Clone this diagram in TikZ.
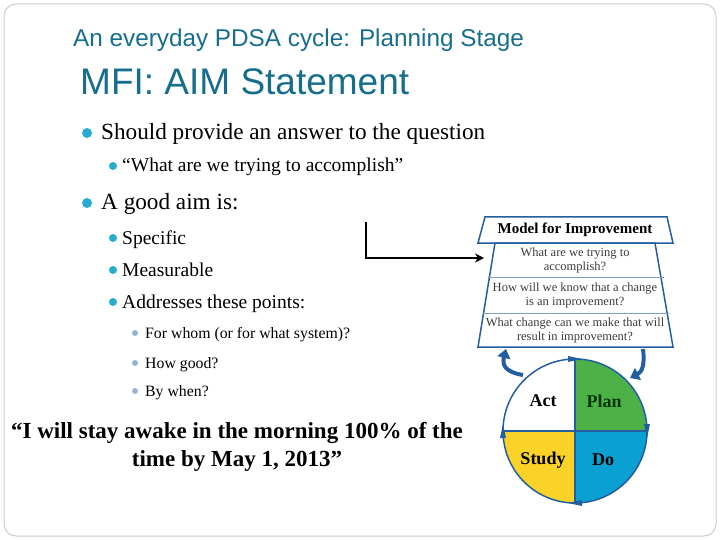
\documentclass[tikz,border=0pt]{standalone}
\usepackage{fontspec}
\setmainfont{Liberation Serif}
\newfontfamily\hdfont{Liberation Sans}
\usetikzlibrary{arrows.meta}
\definecolor{teal1}{RGB}{22,110,140}
\definecolor{bul}{RGB}{40,170,210}
\definecolor{bul3}{RGB}{150,180,210}
\definecolor{mblue}{RGB}{35,95,160}
\definecolor{plang}{RGB}{76,178,72}
\definecolor{dob}{RGB}{10,160,210}
\definecolor{stdy}{RGB}{250,210,40}
\definecolor{txtg}{RGB}{60,60,60}
\tikzset{
 l1/.style={anchor=base west,font=\fontsize{23.2}{25}\selectfont},
 l2/.style={anchor=base west,font=\fontsize{19.5}{21}\selectfont},
 l3/.style={anchor=base west,font=\fontsize{15.8}{17}\selectfont},
 qt/.style={font=\fontsize{12.5}{14}\selectfont\color{txtg},align=center},
 lbl/.style={font=\bfseries\fontsize{18}{20}\selectfont},
 barrow/.style={mblue,line width=4pt,-{Triangle[length=9pt,width=13pt]}}
}
\begin{document}
\begin{tikzpicture}[x=1pt,y=-1pt]
\useasboundingbox (0,0) rectangle (720,540);
\draw[gray!40,line width=1pt,rounded corners=12pt] (4,4) rectangle (716,536);
\node[anchor=base west,font=\hdfont\fontsize{24.3}{26}\selectfont,text=teal1,inner sep=0] (t1) at (73,47) {An everyday PDSA cycle: Planning Stage};
\node[anchor=base west,font=\hdfont\fontsize{37}{40}\selectfont,text=teal1,inner sep=0] (t2) at (80,95) {MFI: AIM Statement};
% bullets
\foreach \y/\s/\x in {133/5/87,203/5/87,166/4/113,238/4/113,270/4/113,302/4/113}{\fill[bul] (\x,\y) circle (\s pt);}
\foreach \y in {333,363,391}{\fill[bul3] (135,\y) circle (3pt);}
\node[l1,inner sep=0] (b1) at (101,140) {Should provide an answer to the question};
\node[l2,inner sep=0] (b2) at (122,172) {“What are we trying to accomplish”};
\node[l1,inner sep=0] (b3) at (101,210) {A good aim is:};
\node[l2,inner sep=0] (b4) at (122,244) {Specific};
\node[l2,inner sep=0] (b5) at (122,276) {Measurable};
\node[l2,inner sep=0] (b6) at (122,308) {Addresses these points:};
\node[l3,inner sep=0] (b7) at (145,338) {For whom (or for what system)?};
\node[l3,inner sep=0] (b8) at (145,368) {How good?};
\node[l3,inner sep=0] (b9) at (145,396) {By when?};
\node[align=center,font=\bfseries\fontsize{23}{28}\selectfont,inner sep=0] (q) at (237,447) {“I will stay awake in the morning 100\% of the\\time by May 1, 2013”};
% bracket arrow
\coordinate (c1) at (366,222);
\coordinate (c2) at (366,258);
\coordinate (c3) at (484,258);
\draw[line width=1.6pt,-{Stealth[length=9pt,width=9pt]}] (c1) -- (c2) -- (c3);
% model
\draw[mblue,line width=1.5pt,fill=white] (485,217) -- (667,217) -- (673,243) -- (478,243) -- cycle;
\node[font=\bfseries\fontsize{15}{17}\selectfont] (mh) at (575,230) {Model for Improvement};
\draw[mblue,line width=1.5pt,fill=white] (495,243) -- (655,243) -- (673,347) -- (478,347) -- cycle;
\draw[mblue!60,line width=0.8pt] (488,277) -- (664,277) (483,313) -- (669,313);
\node[qt] (m1) at (575,260) {What are we trying to\\accomplish?};
\node[qt] (m2) at (575,295) {How will we know that a change\\is an improvement?};
\node[qt] (m3) at (575,330) {What change can we make that will\\result in improvement?};
% circle
\coordinate (O) at (575,431);
\fill[plang] (O) -- (575,359) arc[start angle=90,end angle=0,radius=72pt] -- cycle;
\fill[dob] (O) -- (647,431) arc[start angle=0,end angle=-90,radius=72pt] -- cycle;
\fill[stdy] (O) -- (575,503) arc[start angle=270,end angle=180,radius=72pt] -- cycle;
\draw[mblue,line width=1.5pt] (O) circle (72pt);
\draw[mblue,line width=1.8pt] (575,359) -- (575,503) (503,431) -- (647,431);
\fill[mblue] (568,356) -- (582,359) -- (568,362) -- cycle;
\fill[mblue] (644,424) -- (647,438) -- (650,424) -- cycle;
\fill[mblue] (582,500) -- (568,503) -- (582,506) -- cycle;
\fill[mblue] (500,438) -- (503,424) -- (506,438) -- cycle;
\node[lbl] (act) at (543,401) {Act};
\node[lbl,text=black!80!green] (plan) at (604,401) {Plan};
\node[lbl] (study) at (543,460) {Study};
\node[lbl] (do) at (603,460) {Do};
% curved arrows
\coordinate (a1) at (523,375);
\coordinate (a2) at (506,349);
\draw[barrow] (a1) .. controls (505,372) and (502,365) .. (a2);
\coordinate (a3) at (643,349);
\coordinate (a4) at (630,378);
\draw[barrow] (a3) .. controls (645,365) and (642,372) .. (a4);
\end{tikzpicture}
\end{document}
